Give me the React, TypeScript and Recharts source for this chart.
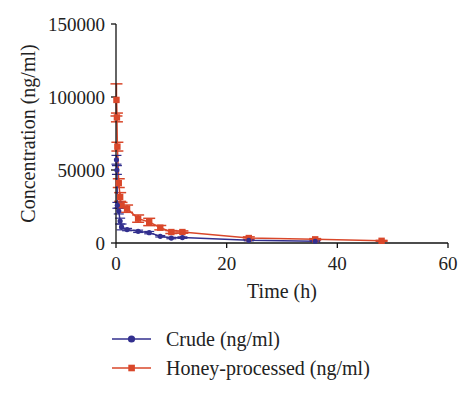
import { LineChart, Line, XAxis, YAxis, ErrorBar, Legend } from 'recharts'

const FONT = '"Liberation Serif", "DejaVu Serif", serif'
const BLUE = '#322f8e'
const RED = '#d9472a'

// sampling times (h)
const times = [0.083, 0.167, 0.25, 0.5, 0.75, 1, 2, 4, 6, 8, 10, 12, 24, 36, 48]
const crude = [57000, 50000, 25800, 21900, 15000, 11000, 9200, 8000, 7100, 4600, 3400, 3700, 1800, 1200]
const crudeErr = [3000, 3000, 2000, 2000, 2000, 2000, 800, 800, 800, 500, 500, 500, 300, 300]
const honey = [98000, 86000, 66000, 41000, 31500, 25800, 23500, 16700, 14400, 10500, 7500, 7500, 3400, 2500, 1500]
const honeyErr = [11000, 3000, 3000, 3000, 3000, 2000, 2500, 2500, 2500, 1500, 1000, 800, 800, 500, 300]

const xTicks = [0, 20, 40, 60]
const yTicks = [0, 50000, 100000, 150000]

const crudeData = crude.map((v, i) => ({ t: times[i], value: v, err: crudeErr[i] }))
const honeyData = honey.map((v, i) => ({ t: times[i], value: v, err: honeyErr[i] }))

const tickStyle = { fontSize: 19, fill: '#222', fontFamily: FONT }

function CircleDot(props: any) {
  const { cx, cy, index } = props
  if (cx == null || cy == null) return null
  return <circle key={'c' + index} cx={cx} cy={cy} r={2.6} fill={BLUE} />
}

function SquareDot(props: any) {
  const { cx, cy, index } = props
  if (cx == null || cy == null) return null
  return <rect key={'s' + index} x={cx - 3.2} y={cy - 3.2} width={6.4} height={6.4} fill={RED} />
}

function LegendBox() {
  const rows = [
    { label: 'Crude (ng/ml)', color: BLUE, shape: 'circle' },
    { label: 'Honey-processed (ng/ml)', color: RED, shape: 'square' },
  ]
  return (
    <svg width={474} height={60} style={{ display: 'block' }}>
      {rows.map((r, i) => {
        const y = 14 + i * 29
        return (
          <g key={r.label}>
            <line x1={112} x2={151} y1={y} y2={y} stroke={r.color} strokeWidth={1.5} />
            {r.shape === 'circle' ? (
              <circle cx={131.5} cy={y} r={3.6} fill={r.color} />
            ) : (
              <rect x={128.3} y={y - 3.3} width={6.6} height={6.6} fill={r.color} />
            )}
            <text x={166} y={y + 7} fontSize={20} fontFamily={FONT} fill="#222">
              {r.label}
            </text>
          </g>
        )
      })}
    </svg>
  )
}

export default function App() {
  return (
    <div style={{ position: 'absolute', left: 0, top: 0, background: '#fff' }}>
      <LineChart width={474} height={395} margin={{ top: 24, right: 26, bottom: 92, left: 0 }}>
        <XAxis
          type="number"
          dataKey="t"
          domain={[0, 60]}
          ticks={xTicks}
          allowDuplicatedCategory={false}
          tick={tickStyle}
          tickSize={5}
          tickMargin={9}
          height={60}
          axisLine={{ stroke: '#111', strokeWidth: 1.3 }}
          tickLine={{ stroke: '#111', strokeWidth: 1.3 }}
          label={{ value: 'Time (h)', position: 'insideBottom', offset: 5, style: { ...tickStyle, fontSize: 20 } }}
        />
        <YAxis
          type="number"
          domain={[0, 150000]}
          ticks={yTicks}
          tick={tickStyle}
          tickSize={5}
          tickMargin={6}
          width={116}
          axisLine={{ stroke: '#111', strokeWidth: 1.3 }}
          tickLine={{ stroke: '#111', strokeWidth: 1.3 }}
          label={({ viewBox }: any) => {
            const x = viewBox.x + 28
            const y = viewBox.y + viewBox.height / 2
            return (
              <text x={x} y={y} transform={`rotate(-90, ${x}, ${y})`} textAnchor="middle" dominantBaseline="central" fontSize={20} fontFamily={FONT} fill="#222">
                Concentration (ng/ml)
              </text>
            )
          }}
        />
        <Legend
          layout="horizontal"
          verticalAlign="middle"
          wrapperStyle={{ position: 'absolute', left: 0, top: 325, width: 474 }}
          content={() => <LegendBox />}
        />
        <Line
          data={honeyData}
          dataKey="value"
          name="Honey-processed (ng/ml)"
          stroke={RED}
          strokeWidth={1.5}
          dot={SquareDot}
          activeDot={false}
          isAnimationActive={false}
        >
          <ErrorBar dataKey="err" direction="y" width={6} stroke={RED} strokeWidth={1.5} />
        </Line>
        <Line
          data={crudeData}
          dataKey="value"
          name="Crude (ng/ml)"
          stroke={BLUE}
          strokeWidth={1.5}
          dot={CircleDot}
          activeDot={false}
          isAnimationActive={false}
        >
          <ErrorBar dataKey="err" direction="y" width={5} stroke={BLUE} strokeWidth={1.2} />
        </Line>
      </LineChart>
    </div>
  )
}
